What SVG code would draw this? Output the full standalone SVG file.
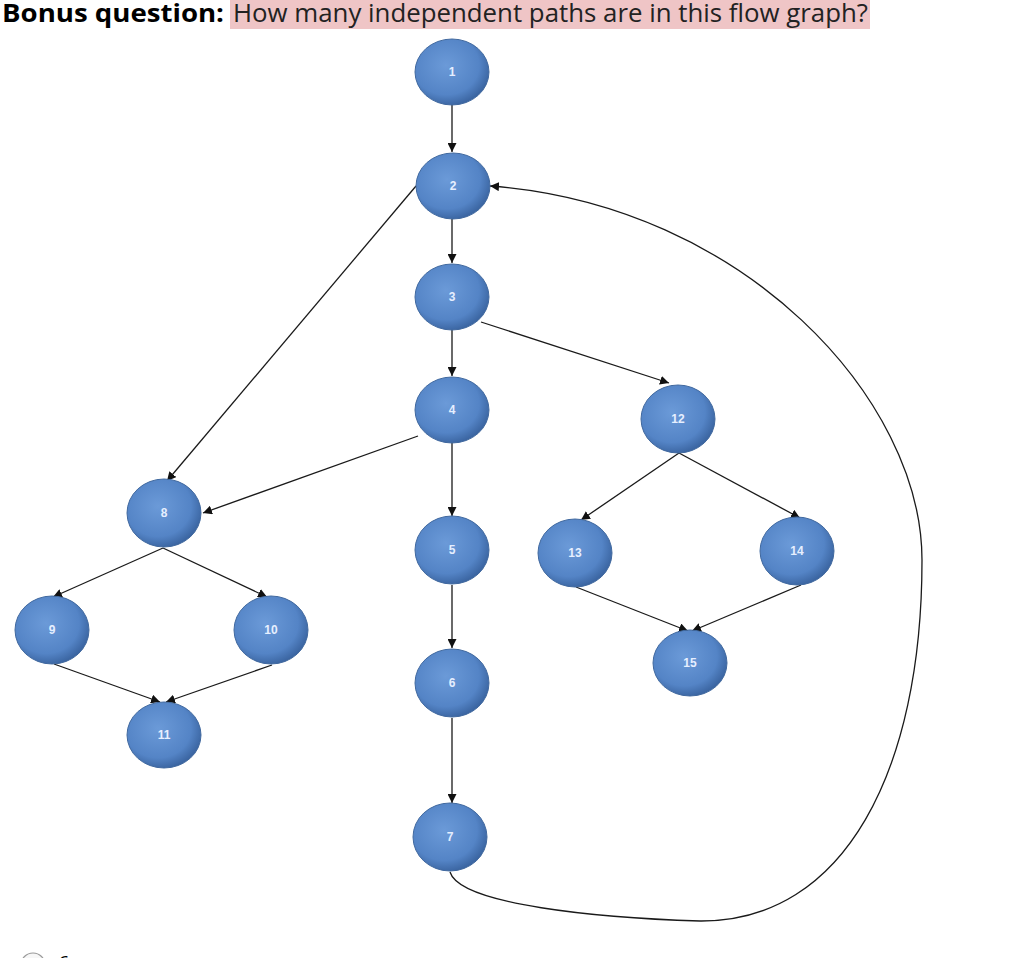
<svg xmlns="http://www.w3.org/2000/svg" width="1016" height="958" viewBox="0 0 1016 958">
<defs>
<radialGradient id="ng" cx="0.42" cy="0.4" r="0.62">
<stop offset="0" stop-color="#6b9ad8"/>
<stop offset="0.72" stop-color="#5484c6"/>
<stop offset="1" stop-color="#3a64a0"/>
</radialGradient>
<marker id="ah" viewBox="0 0 10 10" refX="10" refY="5" markerWidth="9" markerHeight="9" markerUnits="userSpaceOnUse" orient="auto">
<path d="M0,0 L10,5 L0,10 z" fill="#111"/>
</marker>
<style>
.n ellipse{fill:url(#ng);stroke:#41699f;stroke-width:1}
.n text{font-family:"Liberation Sans",Arial,sans-serif;font-size:12px;font-weight:bold;fill:#e6efff;text-anchor:middle}
.e path{fill:none;stroke:#1a1a1a;stroke-width:1.3}
.e .a{marker-end:url(#ah)}
</style>
</defs>
<rect width="1016" height="958" fill="#fff"/>
<rect x="230" y="0" width="640" height="29" fill="#efc5c6"/>
<text x="2" y="22" font-family="'Open Sans',sans-serif" font-size="25" font-weight="bold" fill="#000" textLength="222" lengthAdjust="spacingAndGlyphs">Bonus question:</text>
<text x="233" y="22" font-family="'Open Sans',sans-serif" font-size="25" fill="#222" textLength="635" lengthAdjust="spacingAndGlyphs">How many independent paths are in this flow graph?</text>
<g id="edges" class="e">
<path class="a" d="M452,105 L452,152"/>
<path class="a" d="M452,219 L452,263"/>
<path class="a" d="M452,330 L452,376"/>
<path class="a" d="M452,443 L452,516"/>
<path class="a" d="M452,585 L452,648"/>
<path class="a" d="M452,718 L452,803"/>
<path class="a" d="M416,186 L167,481"/>
<path class="a" d="M481,322 L669,383"/>
<path class="a" d="M418,436 L203,513"/>
<path class="a" d="M163,548 L53,597"/>
<path class="a" d="M163,548 L267,597"/>
<path class="a" d="M54,664 L160,702"/>
<path class="a" d="M272,665 L166,702"/>
<path class="a" d="M679,453 L581,520"/>
<path class="a" d="M679,453 L800,518"/>
<path class="a" d="M576,587 L688,631"/>
<path class="a" d="M801,585 L692,631"/>
<path class="a" d="M450,872 C460,905 600,918 700,921 C845,922 922,770 922,560 C922,400 745,205 490,186"/>
</g>
<g id="n1" class="n"><ellipse cx="452" cy="72" rx="37" ry="33"/><text x="452" y="76">1</text></g>
<g id="n2" class="n"><ellipse cx="453" cy="186" rx="37" ry="33"/><text x="453" y="190">2</text></g>
<g id="n3" class="n"><ellipse cx="452" cy="297" rx="37" ry="33"/><text x="452" y="301">3</text></g>
<g id="n4" class="n"><ellipse cx="452" cy="410" rx="37" ry="33"/><text x="452" y="414">4</text></g>
<g id="n5" class="n"><ellipse cx="452" cy="550" rx="37" ry="34"/><text x="452" y="554">5</text></g>
<g id="n6" class="n"><ellipse cx="452" cy="683" rx="37" ry="34"/><text x="452" y="687">6</text></g>
<g id="n7" class="n"><ellipse cx="450" cy="837" rx="37" ry="34"/><text x="450" y="841">7</text></g>
<g id="n8" class="n"><ellipse cx="164" cy="513" rx="37" ry="34"/><text x="164" y="517">8</text></g>
<g id="n9" class="n"><ellipse cx="52" cy="630" rx="37" ry="34"/><text x="52" y="634">9</text></g>
<g id="n10" class="n"><ellipse cx="271" cy="630" rx="37" ry="34"/><text x="271" y="634">10</text></g>
<g id="n11" class="n"><ellipse cx="164" cy="735" rx="37" ry="33"/><text x="164" y="739">11</text></g>
<g id="n12" class="n"><ellipse cx="678" cy="419" rx="37" ry="34"/><text x="678" y="423">12</text></g>
<g id="n13" class="n"><ellipse cx="575" cy="553" rx="37" ry="34"/><text x="575" y="557">13</text></g>
<g id="n14" class="n"><ellipse cx="797" cy="551" rx="37" ry="34"/><text x="797" y="555">14</text></g>
<g id="n15" class="n"><ellipse cx="690" cy="663" rx="37" ry="33"/><text x="690" y="667">15</text></g>
<circle cx="33" cy="965" r="12" fill="#f7f7f7" stroke="#9a9a9a" stroke-width="1.2"/>
<text x="58" y="970" font-family="'Open Sans',sans-serif" font-size="20" fill="#000">6</text>
</svg>
